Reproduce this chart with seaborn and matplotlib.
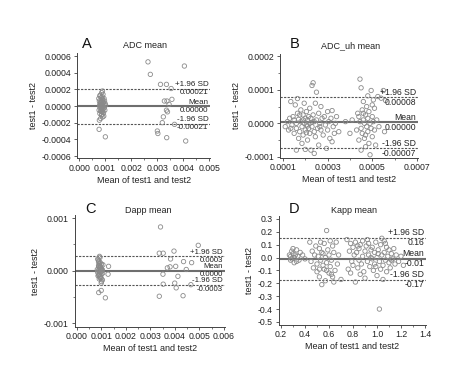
import numpy as np
import matplotlib
matplotlib.use("Agg")
import matplotlib.pyplot as plt
import seaborn as sns
from matplotlib.ticker import MultipleLocator, FormatStrFormatter

sns.set_style("ticks")
plt.rcParams['font.family'] = ['Liberation Sans', 'DejaVu Sans']
plt.rcParams['axes.unicode_minus'] = False

# panel A: ADC mean (x in 1e-4, y in 1e-4)
a_x = [8.0, 8.5, 9.0, 7.8, 8.8, 9.3, 8.2, 8.6, 9.1, 7.9, 8.4, 8.9, 9.5, 8.1, 8.7, 9.2, 7.7,
       8.3, 8.8, 9.4, 8.0, 8.6, 9.1, 8.3, 7.8, 9.2, 8.7, 9.0, 7.6, 9.8, 10.0, 9.7, 9.9, 10.2,
       8.5, 8.9, 8.2, 9.3, 8.8, 9.5, 8.4, 8.0, 9.6, 8.6, 9.0, 8.1, 9.1, 8.7, 7.7, 10.1,
       26.5, 27.4, 40.5, 31.3, 33.6, 35.4, 32.8, 33.8, 35.7, 34.6, 34.0, 33.6, 32.4, 32.0,
       36.7, 30.1, 30.3, 33.7, 41.0]
a_y = [1.2, 1.0, 0.8, 0.6, 0.5, 0.4, 0.3, 0.2, 0.1, 0.0, -0.1, 0.0, 0.2, -0.2, -0.3, -0.4, -0.5,
       -0.6, -0.7, -0.8, -0.9, -1.1, -1.3, -1.5, -1.7, 1.4, 1.6, 1.8, 0.9, 0.6, 0.3, -0.2, -0.5, 0.1,
       0.7, 1.1, 0.4, -0.1, -1.0, -1.2, 0.1, 0.2, 0.9, -0.4, -0.6, 1.3, 0.7, 0.0, -2.8, -3.7,
       5.3, 3.8, 4.8, 2.6, 2.6, 2.1, 0.6, 0.6, 0.8, 0.2, -0.7, -0.5, -1.3, -2.0,
       -2.2, -3.0, -3.3, -3.8, -4.2]

# panel B: ADC_uh mean (x in 1e-4, y in 1e-5)
b_x = [1.1, 1.2, 1.25, 1.3, 1.35, 1.4, 1.45, 1.5, 1.5, 1.55, 1.6, 1.6, 1.65, 1.65, 1.7, 1.7,
       1.75, 1.8, 1.8, 1.85, 1.85, 1.9, 1.9, 1.95, 1.95, 2.0, 2.0, 2.0, 2.05, 2.05, 2.1, 2.1,
       2.15, 2.15, 2.2, 2.2, 2.2, 2.25, 2.25, 2.3, 2.3, 2.35, 2.35, 2.4, 2.4, 2.45, 2.45, 2.5,
       2.5, 2.55, 2.6, 2.6, 2.65, 2.7, 2.7, 2.75, 2.8, 2.85, 2.9, 2.95, 3.0, 3.0, 3.05, 3.1,
       3.15, 3.2, 3.25, 3.3, 3.35, 3.4, 3.5, 1.35, 1.75, 2.1, 2.3, 1.9, 2.05, 2.65, 3.2, 2.4,
       1.6, 3.8, 4.0, 4.1,
       4.3, 4.35, 4.4, 4.45, 4.45, 4.5, 4.5, 4.55, 4.55, 4.6, 4.6, 4.65, 4.65, 4.7, 4.7, 4.75,
       4.75, 4.8, 4.8, 4.85, 4.85, 4.9, 4.9, 4.95, 4.95, 5.0, 5.0, 5.05, 5.05, 5.1, 5.1, 5.15,
       5.2, 5.25, 5.3, 5.4, 5.5, 5.55, 5.6, 4.6, 4.4, 4.7, 4.8, 5.0, 4.5]
b_y = [-1.0, 0.5, -2.0, 1.5, 6.5, -0.5, 2.0, -3.0, 1.0, 5.5, 0.0, -1.5, 3.0, 7.4, -4.5, 1.2,
       -2.5, 0.5, 4.0, -1.0, -6.0, 2.5, -3.5, 0.0, 6.0, -2.0, 1.5, -7.8, 3.5, -0.5, -5.0, 1.0,
       -1.5, 2.0, 0.0, -3.0, 4.5, -8.0, 1.5, 11.3, -1.0, 12.1, 2.5, -2.5, 0.5, 6.0, -4.0, 1.0,
       9.3, -1.5, 3.0, -6.5, 0.0, -2.0, 5.0, 1.5, -3.5, 2.0, -0.5, -7.5, 3.5, -2.0, 0.5, -4.5,
       1.5, 3.8, -1.0, -3.0, 0.0, 2.0, -2.5, -1.5, 2.5, -0.8, 0.3, 1.0, -2.8, -1.0, -5.5, -9.0,
       -8.0, 0.5, -3.0, 1.0,
       -2.0, 3.0, -5.0, 13.2, 0.5, 10.6, -1.5, 4.0, -3.0, 1.0, 6.5, -4.5, 0.0, 2.5, -7.0, -1.0,
       5.0, 1.5, -2.5, 3.5, -6.0, -9.4, 0.0, 9.8, -1.5, 2.0, -4.0, 7.0, 0.5, -2.0, 4.5, -6.5,
       1.0, 8.0, -1.0, 7.5, 9.8, -2.5, 6.8, 3.0, 2.0, -3.5, 8.2, 5.5, -8.0]

# panel C: Dapp mean (x in 1e-4, y in 1e-4)
c_x = [8.5, 9.0, 9.5, 10.0, 8.8, 9.3, 9.8, 10.3, 8.6, 9.1, 9.6, 10.1, 8.9, 9.4, 9.9, 10.4,
       8.7, 9.2, 9.7, 10.2, 8.4, 9.0, 9.5, 10.0, 8.8, 9.3, 9.8, 10.5, 8.6, 9.1, 9.6, 10.1,
       9.4, 9.9, 8.9, 9.2, 10.6, 8.3, 9.7, 9.0, 8.9, 9.9, 11.6, 12.9, 12.7, 9.2,
       34.1, 33.6, 35.2, 39.6, 49.5, 38.2, 43.5, 46.8, 36.9, 38.0, 40.3, 44.6, 35.1, 41.2,
       35.2, 39.9, 40.5, 46.5, 33.6, 43.3]
c_y = [2.2, 1.8, 1.5, 1.2, 0.9, 0.6, 0.4, 0.2, 0.0, -0.2, -0.4, -0.6, -0.9, -1.2, -1.5, -1.8,
       2.0, 1.3, 0.7, 0.1, -0.3, -0.8, -1.4, -2.1, 1.6, 1.0, 0.3, -0.5, -1.0, -1.6, 0.5, -0.1,
       2.5, -2.4, 0.8, -0.7, 1.1, 0.2, -1.1, 0.0, -4.2, -3.8, -5.2, 0.8, -0.7, 2.7,
       8.3, 3.3, 3.3, 3.7, 4.8, 2.2, 1.7, 1.5, 0.5, 0.7, 0.8, 0.2, -0.7, -1.1,
       -2.6, -2.4, -3.3, -2.7, -4.9, -4.8]

# panel D: Kapp mean
d_x = [0.27, 0.28, 0.29, 0.29, 0.30, 0.31, 0.31, 0.32, 0.33, 0.33, 0.34, 0.35, 0.36, 0.38, 0.30,
       0.28, 0.40,
       0.44, 0.45, 0.46, 0.47, 0.48, 0.49, 0.50, 0.50, 0.51, 0.52, 0.52, 0.53, 0.53, 0.54, 0.54,
       0.55, 0.55, 0.56, 0.56, 0.57, 0.57, 0.58, 0.58, 0.59, 0.60, 0.60, 0.61, 0.61, 0.62, 0.63,
       0.63, 0.64, 0.64, 0.65, 0.66, 0.67, 0.68, 0.70, 0.52, 0.58, 0.62,
       0.75, 0.76, 0.77, 0.78, 0.79, 0.80, 0.80, 0.81, 0.82, 0.82, 0.83, 0.84, 0.85, 0.85, 0.86,
       0.87, 0.88, 0.88, 0.89, 0.90, 0.90, 0.91, 0.92, 0.93, 0.93, 0.94, 0.95, 0.96, 0.96, 0.97,
       0.98, 0.98, 0.99, 1.00, 1.00, 1.01, 1.02, 1.02, 1.03, 1.03, 1.04, 1.04, 1.05, 1.05, 1.06,
       1.06, 1.07, 1.08, 1.08, 1.09, 1.10, 1.10, 1.11, 1.12, 1.13, 1.14, 1.15, 1.16, 1.18, 1.20,
       1.22, 0.78, 0.84, 0.92, 0.99, 1.01, 1.07, 0.86, 0.95, 1.12]
d_y = [0.02, -0.02, 0.05, -0.01, 0.03, 0.00, -0.04, 0.02, 0.06, -0.03, 0.01, -0.02, 0.04, 0.02, 0.07,
       0.01, -0.01,
       0.12, -0.03, 0.05, -0.08, 0.02, 0.09, -0.05, -0.11, 0.01, 0.07, -0.15, 0.12, -0.02, 0.04, -0.21,
       -0.06, 0.03, -0.09, 0.11, -0.18, 0.00, 0.21, -0.04, 0.06, -0.12, 0.02, 0.13, -0.07, -0.02, -0.15,
       0.09, -0.19, 0.04, -0.10, 0.12, -0.05, 0.02, -0.17, -0.09, -0.10, -0.13,
       0.14, -0.09, 0.05, 0.11, -0.03, 0.08, -0.06, 0.02, -0.19, 0.12, 0.04, -0.08, 0.07, -0.02, 0.10,
       -0.05, 0.01, 0.13, -0.11, 0.05, -0.16, 0.09, -0.03, 0.02, 0.11, -0.07, 0.06, -0.01, 0.08, -0.10,
       0.04, -0.05, 0.12, 0.00, -0.14, 0.06, -0.40, -0.03, 0.10, -0.09, 0.02, 0.15, -0.06, -0.17, 0.04,
       0.13, -0.02, 0.08, -0.11, 0.01, -0.04, 0.06, -0.08, 0.03, -0.01, 0.07, -0.05, 0.02, -0.03, 0.01,
       -0.06, -0.12, 0.09, 0.14, -0.07, 0.03, 0.11, -0.13, 0.00, -0.02]

# limits of agreement: mean, lower, upper and printed labels
a_lim = [0.0, -0.00021, 0.00021]
b_lim = [0.000003, -0.0000735, 0.0000785]
c_lim = [0.0, -0.00027, 0.00027]
d_lim = [-0.008, -0.171, 0.156]
a_txt = ['0.00021', '0.00000', '-0.00021']
b_txt = ['0.00008', '0.00000', '-0.00007']
c_txt = ['0.0003', '0.0000', '-0.0003']
d_txt = ['0.16', '-0.01', '-0.17']

W, H = 474, 372
fig = plt.figure(figsize=(W / 100, H / 100), dpi=100)
fig.patch.set_facecolor('white')


def px_axes(left, top, right, bottom):
    return fig.add_axes([left / W, 1 - bottom / H, (right - left) / W, (bottom - top) / H])


def bland(ax, x, y, lim, txt, title, letter, lx, ly, tx, ty, lim_fs=6.2):
    sns.scatterplot(x=x, y=y, ax=ax, marker='o', s=10, facecolor='none',
                    edgecolor='#8a8a8a', linewidth=0.6, zorder=3)
    mean, lo, hi = lim
    ax.axhline(hi, color='#555555', lw=0.8, ls=(0, (2, 1.2)), zorder=2)
    ax.axhline(lo, color='#555555', lw=0.8, ls=(0, (2, 1.2)), zorder=2)
    ax.axhline(mean, color='#6e6e6e', lw=1.5, zorder=2)
    for yv, top, bottom in [(hi, '+1.96 SD', txt[0]), (mean, 'Mean', txt[1]), (lo, '-1.96 SD', txt[2])]:
        ax.annotate(top, xy=(0.985, yv), xycoords=('axes fraction', 'data'), xytext=(0, 0.2),
                    textcoords='offset points', ha='right', va='bottom', fontsize=lim_fs, color='#222222')
        ax.annotate(bottom, xy=(0.985, yv), xycoords=('axes fraction', 'data'), xytext=(0, -0.6),
                    textcoords='offset points', ha='right', va='top', fontsize=lim_fs, color='#222222')
    for side in ['top', 'right']:
        ax.spines[side].set_visible(False)
    for side in ['left', 'bottom']:
        ax.spines[side].set_linewidth(0.7)
        ax.spines[side].set_color('#444444')
    ax.tick_params(which='major', length=2.5, width=0.6, labelsize=6.3, pad=1.5, colors='#444444',
                   labelcolor='#222222')
    ax.tick_params(which='minor', length=1.5, width=0.5, colors='#444444')
    ax.set_xlabel('Mean of test1 and test2', fontsize=6.5, labelpad=2, color='#222222')
    ax.set_ylabel('test1 - test2', fontsize=6.5, labelpad=3, color='#222222')
    ax.set_facecolor('white')
    fig.text(tx / W, 1 - ty / H, title, fontsize=6.5, ha='center', va='center', color='#222222')
    fig.text(lx / W, 1 - ly / H, letter, fontsize=10.5, ha='center', va='center', color='#111111')


# A
ax = px_axes(77, 52.7, 210.4, 158.5)
bland(ax, np.array(a_x) * 1e-4, np.array(a_y) * 1e-4, a_lim, a_txt, 'ADC mean', 'A', 87, 44, 145, 46,
      lim_fs=5.8)
ax.set_xlim(-0.00008, 0.00505)
ax.set_ylim(-0.00063, 0.00064)
ax.xaxis.set_major_locator(MultipleLocator(0.001))
ax.xaxis.set_minor_locator(MultipleLocator(0.0005))
ax.yaxis.set_major_locator(MultipleLocator(0.0002))
ax.xaxis.set_major_formatter(FormatStrFormatter('%.3f'))
ax.yaxis.set_major_formatter(FormatStrFormatter('%.4f'))

# B
ax = px_axes(280, 54, 418, 157.8)
bland(ax, np.array(b_x) * 1e-4, np.array(b_y) * 1e-5, b_lim, b_txt, 'ADC_uh mean', 'B', 295, 44, 351, 46)
ax.set_xlim(0.0000866, 0.000705)
ax.set_ylim(-0.000103, 0.000207)
ax.set_xticks([0.0001, 0.0003, 0.0005, 0.0007])
ax.xaxis.set_minor_locator(MultipleLocator(0.0001))
ax.yaxis.set_major_locator(MultipleLocator(0.0001))
ax.yaxis.set_minor_locator(MultipleLocator(0.00005))
ax.xaxis.set_major_formatter(FormatStrFormatter('%.4f'))
ax.yaxis.set_major_formatter(FormatStrFormatter('%.4f'))

# C
ax = px_axes(74.5, 215.4, 225.2, 326.7)
bland(ax, np.array(c_x) * 1e-4, np.array(c_y) * 1e-4, c_lim, c_txt, 'Dapp mean', 'C', 90, 209, 148, 210,
      lim_fs=5.6)
ax.set_xlim(-0.0001, 0.00605)
ax.set_ylim(-0.00107, 0.00105)
ax.xaxis.set_major_locator(MultipleLocator(0.001))
ax.xaxis.set_minor_locator(MultipleLocator(0.0005))
ax.yaxis.set_major_locator(MultipleLocator(0.001))
ax.yaxis.set_minor_locator(MultipleLocator(0.0005))
ax.xaxis.set_major_formatter(FormatStrFormatter('%.3f'))
ax.yaxis.set_major_formatter(FormatStrFormatter('%.3f'))

# D
ax = px_axes(278.6, 216.4, 426.2, 324.5)
bland(ax, np.array(d_x), np.array(d_y), d_lim, d_txt, 'Kapp mean', 'D', 294, 209, 354, 210)
ax.set_xlim(0.18, 1.41)
ax.set_ylim(-0.52, 0.32)
ax.xaxis.set_major_locator(MultipleLocator(0.2))
ax.xaxis.set_minor_locator(MultipleLocator(0.1))
ax.yaxis.set_major_locator(MultipleLocator(0.1))
ax.xaxis.set_major_formatter(FormatStrFormatter('%.1f'))
ax.yaxis.set_major_formatter(FormatStrFormatter('%.1f'))

fig.savefig('out.png', dpi=100, facecolor='white')
